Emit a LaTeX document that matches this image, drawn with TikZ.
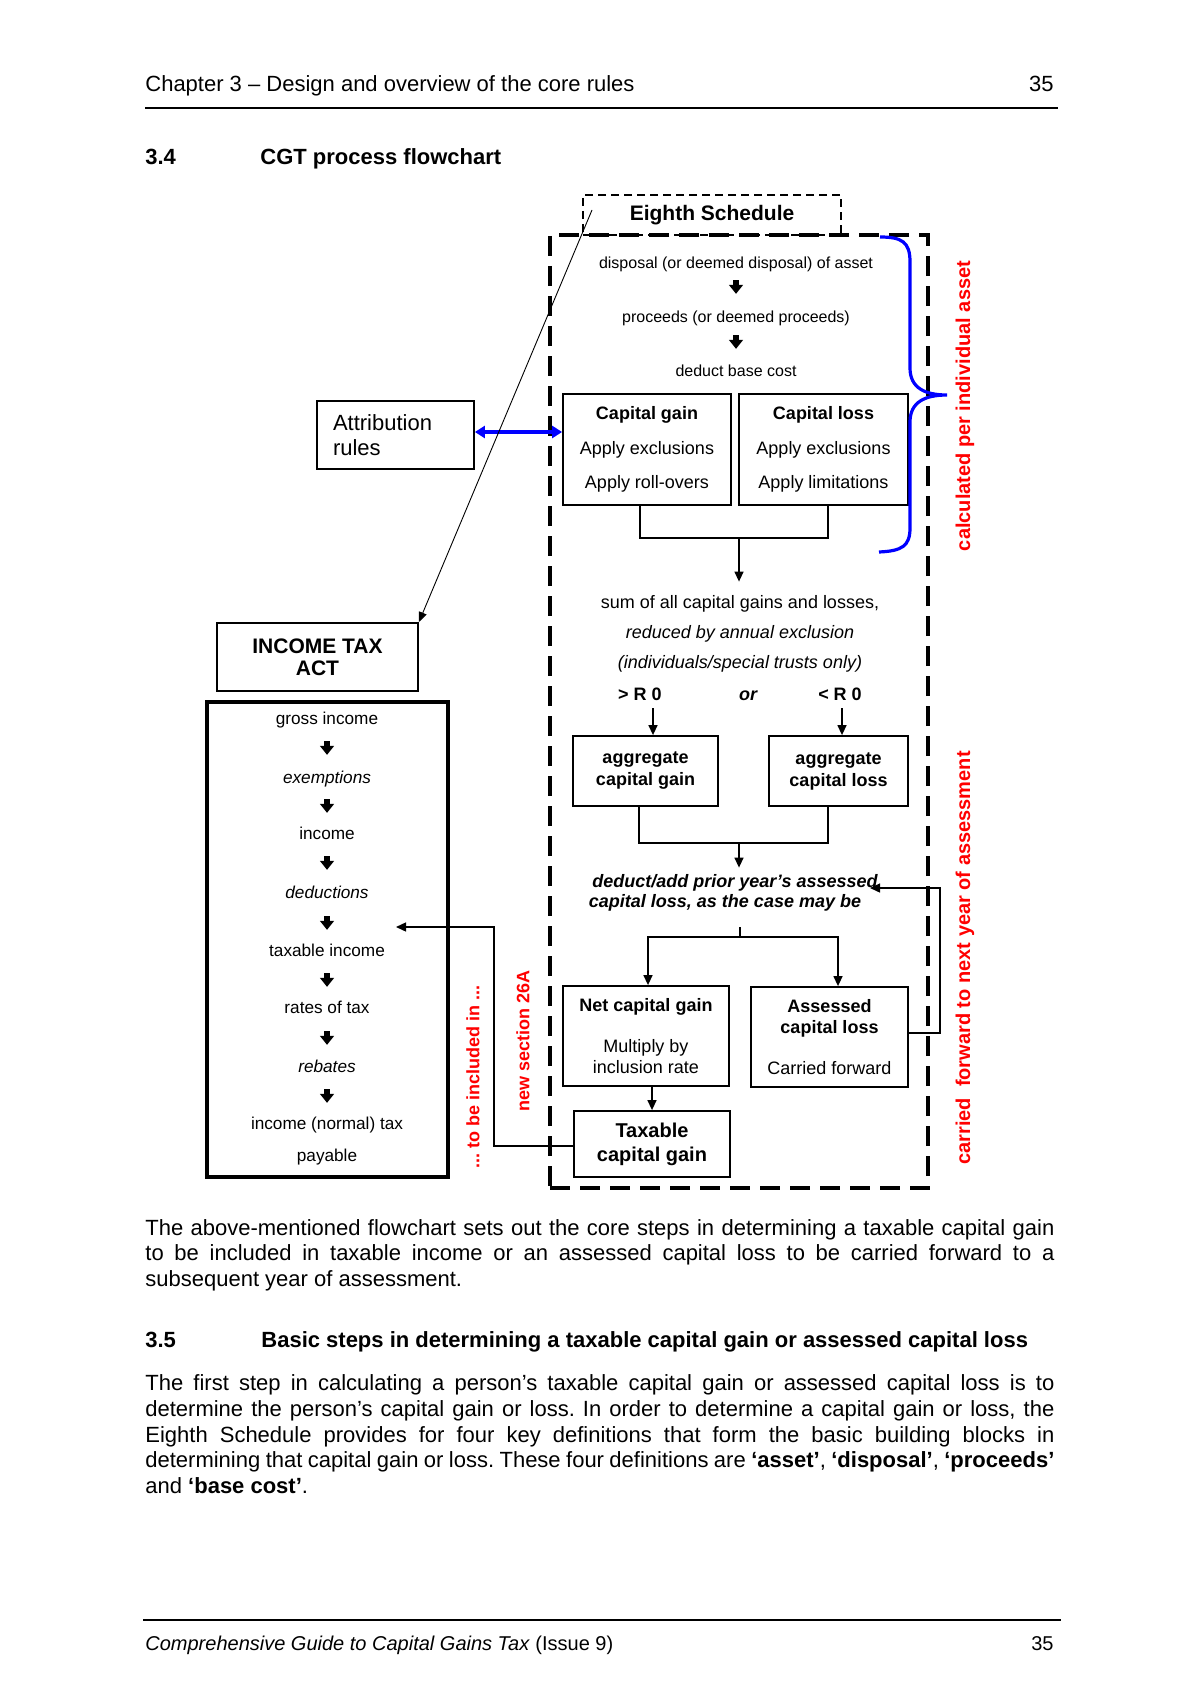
\documentclass[tikz,border=0pt]{standalone}
\usepackage{fontspec}
\setmainfont{Liberation Sans}
\usetikzlibrary{arrows.meta,calc}
\begin{document}
\frenchspacing
\begin{tikzpicture}[x=0.5pt,y=-0.5pt,
 every node/.style={inner sep=0pt},
 t9/.style={font=\fontsize{9}{11}\selectfont, text height=7pt, text depth=2pt},
 t9i/.style={font=\fontsize{9}{11}\selectfont\itshape, text height=7pt, text depth=2pt},
 t9b/.style={font=\fontsize{9}{11}\selectfont\bfseries, text height=7pt, text depth=2pt},
 t9bi/.style={font=\fontsize{9}{11}\selectfont\bfseries\itshape, text height=7pt, text depth=2pt},
 t8/.style={font=\fontsize{8}{10}\selectfont, text height=6.2pt, text depth=1.8pt},
 li/.style={font=\fontsize{8.6}{10}\selectfont, text height=6.7pt, text depth=1.9pt},
 lii/.style={li, font=\fontsize{8.6}{10}\selectfont\itshape},
 redt/.style={text=red, font=\fontsize{10}{12}\selectfont\bfseries, rotate=90},
 redts/.style={text=red, font=\fontsize{9}{11}\selectfont\bfseries, rotate=90},
 box/.style={draw, line width=0.9pt, align=center},
 ln/.style={line width=0.7pt},
 conn/.style={line width=0.7pt, -{Triangle[length=5pt,width=4.5pt]}},
 bluearr/.style={blue, line width=2pt, {Triangle[length=5pt,width=6pt]}-{Triangle[length=5pt,width=6pt]}},
 dnglyph/.pic={\fill (-1.3pt,0.8pt) rectangle (1.3pt,3.4pt); \fill (-3.6pt,1.1pt) -- (3.6pt,1.1pt) -- (0,-3.4pt) -- cycle;},
 body/.style={anchor=base west, font=\fontsize{11}{13}\selectfont},
 bodyb/.style={anchor=base west, font=\fontsize{11}{13}\selectfont\bfseries},
]
\useasboundingbox (0,0) rectangle (1200,1696);
\fill[white] (0,0) rectangle (1200,1696);

% header
\node[body] (hdr) at (145,92) {Chapter 3 – Design and overview of the core rules};
\node[body, anchor=base east] (hdrn) at (1054,92) {35};
\draw[line width=1.4pt] (145,108) -- (1058,108);
\node[bodyb] (s34) at (145,165) {3.4};
\node[bodyb] (s34t) at (260,165) {CGT process flowchart};

% big dashed box and Eighth Schedule
\node[draw, dash pattern=on 10pt off 5pt, line width=1.7pt, minimum width=189pt, minimum height=476.5pt] (big) at (739,711.5) {};
\node[draw, dash pattern=on 4pt off 2.5pt, line width=0.9pt, minimum width=129pt, minimum height=20pt, font=\fontsize{10.5}{12}\selectfont\bfseries] (eighth) at (712,215) {Eighth Schedule};

% top chain
\node[t8] (disp) at (736,264) {disposal (or deemed disposal) of asset};
\pic at (736,287) {dnglyph};
\node[t8] (proc) at (736,318) {proceeds (or deemed proceeds)};
\pic at (736,342) {dnglyph};
\node[t8] (dbc) at (736,372) {deduct base cost};

\node[box, minimum width=84pt, minimum height=55.5pt, font=\fontsize{9}{17.25}\selectfont] (cg) at (647,449.5) {\textbf{Capital gain}\\Apply exclusions\\Apply roll-overs};
\node[box, minimum width=84.5pt, minimum height=55.5pt, font=\fontsize{9}{17.25}\selectfont] (cl) at (823.5,449.5) {\textbf{Capital loss}\\Apply exclusions\\Apply limitations};

\coordinate (j1) at (739,538);
\draw[ln] ([xshift=-3.5pt]cg.south) |- (j1) -| ([xshift=2.25pt]cl.south);

\node[t9] (sum) at (740,603) {sum of all capital gains and losses,};
\draw[conn, shorten >=6pt] (j1) -- (j1 |- sum.north);
\node[t9i] (redx) at (740,633) {reduced by annual exclusion};
\node[t9i] (indiv) at (740,663) {(individuals/special trusts only)};
\node[t9b] (gt) at (640,695) {> R 0};
\node[t9bi] (orr) at (748,695) {or};
\node[t9b] (lt) at (840,695) {< R 0};

\node[box, minimum width=72.5pt, minimum height=35pt, font=\fontsize{9}{11}\selectfont\bfseries] (agg) at (645.5,771) {aggregate\\capital gain};
\node[box, minimum width=69.5pt, minimum height=35pt, font=\fontsize{9}{11}\selectfont\bfseries] (agl) at (838.5,771) {aggregate\\capital loss};
\coordinate (a1) at (653,708);
\coordinate (a2) at (842,708);
\draw[conn] (a1) -- (a1 |- agg.north);
\draw[conn] (a2) -- (a2 |- agl.north);

\coordinate (j2) at (739,843);
\draw[ln] ([xshift=-3.25pt]agg.south) |- (j2) -| ([xshift=-5.25pt]agl.south);
\node[t9bi] (ded1) at (735,882) {deduct/add prior year’s assessed};
\node[t9bi] (ded2) at (725,902) {capital loss, as the case may be};
\draw[conn, shorten >=2.5pt] (j2) -- (j2 |- ded1.north);

\node[box, minimum width=83pt, minimum height=50pt, font=\fontsize{9}{10.35}\selectfont] (ncg) at (646,1036) {\textbf{Net capital gain}\\[10.35pt]Multiply by\\inclusion rate};
\node[box, minimum width=78.5pt, minimum height=50pt, font=\fontsize{9}{10.35}\selectfont] (acl) at (829.5,1037) {\textbf{Assessed}\\\textbf{capital loss}\\[10.35pt]Carried forward};
\coordinate (s3) at (740,927);
\coordinate (j3) at (740,937);
\draw[ln] (s3) -- (j3);
\draw[conn] (j3) -| ([xshift=1pt]ncg.north);
\draw[conn] (j3) -| ([xshift=4.25pt]acl.north);

\node[box, minimum width=78pt, minimum height=33pt, font=\fontsize{10}{12}\selectfont\bfseries] (tcg) at (652,1144) {Taxable\\capital gain};
\draw[conn] (tcg.north |- ncg.south) -- (tcg.north);

\coordinate (fb) at (940,888);
\coordinate (fbe) at (870,888);
\draw[conn] ([yshift=2pt]acl.east) -| (fb) -- (fbe);

% left side
\node[box, text width=62.5pt, inner xsep=8pt, minimum height=34pt, align=left, font=\fontsize{11}{12.5}\selectfont] (attr) at (395.5,435) {Attribution\\rules};
\draw[bluearr] ([yshift=1.5pt]attr.east) -- ([yshift=1.5pt]attr.east -| cg.west);

\node[box, minimum width=100.5pt, minimum height=34pt, font=\fontsize{10.5}{11}\selectfont\bfseries] (ita) at (317.5,657) {INCOME TAX\\ACT};
\coordinate (dg) at (592,210);
\draw[line width=0.45pt, -{Triangle[length=5pt,width=4pt]}] (dg) -- (ita.north east);

\node[draw, line width=1.6pt, minimum width=120.5pt, minimum height=237.5pt] (lst) at (327.5,939.5) {};
\node[li] (l1) at (327,720) {gross income};
\pic at (327,748) {dnglyph};
\node[lii] (l2) at (327,779) {exemptions};
\pic at (327,806) {dnglyph};
\node[li] (l3) at (327,835) {income};
\pic at (327,863) {dnglyph};
\node[lii] (l4) at (327,894) {deductions};
\pic at (327,923) {dnglyph};
\node[li] (l5) at (327,952) {taxable income};
\pic at (327,980) {dnglyph};
\node[li] (l6) at (327,1009) {rates of tax};
\pic at (327,1038) {dnglyph};
\node[lii] (l7) at (327,1068) {rebates};
\pic at (327,1096) {dnglyph};
\node[li] (l8) at (327,1125) {income (normal) tax};
\node[li] (l9) at (327,1157) {payable};

\coordinate (ti1) at (494,927);
\coordinate (ti2) at (396,927);
\draw[conn] ([yshift=-1pt]tcg.west) -| (ti1) -- (ti2);

% brace and red labels
\draw[blue, line width=1.6pt] (880,237) .. controls (902,237) and (910,242) .. (910,262) -- (910,368) .. controls (910,388) and (925,395) .. (947,395) .. controls (925,395) and (910,402) .. (910,422) -- (910,528) .. controls (910,546) and (902,551) .. (879,552);
\node[redt] (calc) at (965,406) {calculated per individual asset};
\node[redt] (carr) at (965,958) {carried\ \ forward to next year of assessment};
\node[redts] (incl) at (473,1077) {... to be included in ...};
\node[redts] (n26) at (523,1041) {new section 26A};

% body text
\node[body] (p1a) at (145,1235) {\makebox[454.5pt][s]{The above-mentioned flowchart sets out the core steps in determining a taxable capital gain}};
\node[body] (p1b) at (145,1260) {\makebox[454.5pt][s]{to be included in taxable income or an assessed capital loss to be carried forward to a}};
\node[body] (p1c) at (145,1286) {subsequent year of assessment.};

\node[bodyb] (s35) at (145,1347) {3.5};
\node[bodyb] (s35t) at (261,1347) {Basic steps in determining a taxable capital gain or assessed capital loss};

\node[body] (p2a) at (145,1390) {\makebox[454.5pt][s]{The first step in calculating a person’s taxable capital gain or assessed capital loss is to}};
\node[body] (p2b) at (145,1416) {\makebox[454.5pt][s]{determine the person’s capital gain or loss. In order to determine a capital gain or loss, the}};
\node[body] (p2c) at (145,1442) {\makebox[454.5pt][s]{Eighth Schedule provides for four key definitions that form the basic building blocks in}};
\node[body] (p2d) at (145,1467) {\makebox[454.5pt][s]{determining that capital gain or loss. These four definitions are \textbf{‘asset’}, \textbf{‘disposal’}, \textbf{‘proceeds’}}};
\node[body] (p2e) at (145,1493) {and \textbf{‘base cost’}.};

% footer
\draw[line width=1.4pt] (143,1620) -- (1061,1620);
\node[anchor=base west, font=\fontsize{10}{12}\selectfont] (ft) at (145,1650) {\textit{Comprehensive Guide to Capital Gains Tax} (Issue 9)};
\node[anchor=base east, font=\fontsize{10}{12}\selectfont] (ftn) at (1054,1650) {35};
\end{tikzpicture}
\end{document}
